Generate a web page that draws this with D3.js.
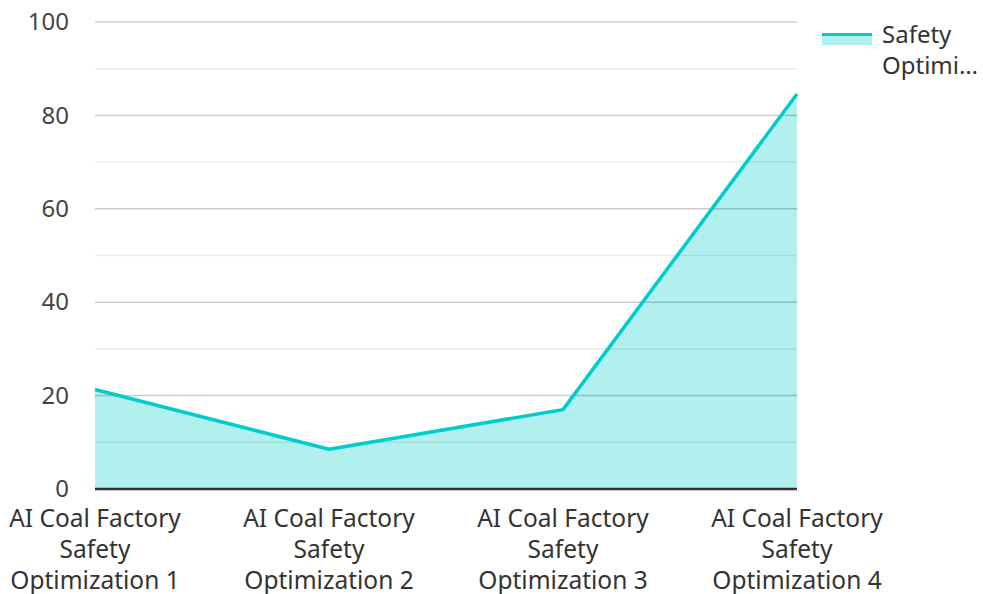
<!DOCTYPE html>
<html>
<head>
<meta charset="utf-8">
<script src="https://cdn.jsdelivr.net/npm/d3@7"></script>
<style>
  html, body { margin: 0; padding: 0; background: #fff; }
  svg { display: block; font-family: "Noto Sans", "Open Sans", sans-serif; }
</style>
</head>
<body>
<svg id="chart" width="983" height="594"></svg>
<script>
// Chart data
const categories = [
  ["AI Coal Factory", "Safety", "Optimization 1"],
  ["AI Coal Factory", "Safety", "Optimization 2"],
  ["AI Coal Factory", "Safety", "Optimization 3"],
  ["AI Coal Factory", "Safety", "Optimization 4"]
];
const seriesName = "Safety Optimization";
const legendLines = ["Safety", "Optimi\u2026"];
const values = [21.3, 8.5, 17, 84.6];
const yTicks = [0, 20, 40, 60, 80, 100];
const yMinorTicks = [10, 30, 50, 70, 90];

const svg = d3.select("#chart");
const margin = { left: 95, right: 186, top: 22, bottom: 105 };
const W = 983, H = 594;
const fontSize = 24.5;

const x = d3.scalePoint()
  .domain(d3.range(categories.length))
  .range([margin.left, W - margin.right])
  .padding(0);
const y = d3.scaleLinear().domain([0, 100]).range([H - margin.bottom, margin.top]);

const lineColor = "#00cccc";
const fillColor = "rgba(0, 204, 204, 0.3)";

// Area under the series
const area = d3.area()
  .x((d, i) => x(i))
  .y0(y(0))
  .y1(d => y(d));
svg.append("path")
  .datum(values)
  .attr("d", area)
  .attr("fill", fillColor);

// Gridlines (drawn over the fill so they show through it)
const grid = svg.append("g");
grid.selectAll("line.minor")
  .data(yMinorTicks)
  .join("line")
  .attr("class", "minor")
  .attr("x1", margin.left).attr("x2", W - margin.right)
  .attr("y1", d => y(d)).attr("y2", d => y(d))
  .attr("stroke", "rgba(0,0,0,0.08)")
  .attr("stroke-width", 1.5);
grid.selectAll("line.major")
  .data(yTicks.filter(d => d > 0))
  .join("line")
  .attr("class", "major")
  .attr("x1", margin.left).attr("x2", W - margin.right)
  .attr("y1", d => y(d)).attr("y2", d => y(d))
  .attr("stroke", "rgba(0,0,0,0.2)")
  .attr("stroke-width", 1.5);

// Series line
const line = d3.line()
  .x((d, i) => x(i))
  .y(d => y(d));
svg.append("path")
  .datum(values)
  .attr("d", line)
  .attr("fill", "none")
  .attr("stroke", lineColor)
  .attr("stroke-width", 3.5)
  .attr("stroke-linejoin", "round");

// Baseline axis
svg.append("line")
  .attr("x1", margin.left).attr("x2", W - margin.right)
  .attr("y1", y(0)).attr("y2", y(0))
  .attr("stroke", "#333")
  .attr("stroke-width", 2.5);

// Y axis labels
const yAxis = d3.axisLeft(y).tickValues(yTicks).tickSize(0).tickPadding(26);
const yg = svg.append("g")
  .attr("transform", `translate(${margin.left},0)`)
  .call(yAxis);
yg.select(".domain").remove();
yg.selectAll("text")
  .attr("font-size", 24)
  .attr("font-family", "Noto Sans, Open Sans, sans-serif")
  .attr("fill", "#444");

// X axis labels (three lines each)
const xg = svg.append("g");
categories.forEach((lines, i) => {
  const t = xg.append("text")
    .attr("text-anchor", "middle")
    .attr("font-size", fontSize)
    .attr("fill", "#333");
  lines.forEach((s, k) => {
    t.append("tspan")
      .attr("x", x(i))
      .attr("y", y(0) + 38 + k * 31)
      .text(s);
  });
});

// Legend
const lg = svg.append("g").attr("transform", "translate(822,33)");
lg.append("rect").attr("x", 0).attr("y", 0).attr("width", 50).attr("height", 12).attr("fill", fillColor);
lg.append("line").attr("x1", 0).attr("x2", 50).attr("y1", 1.5).attr("y2", 1.5)
  .attr("stroke", lineColor).attr("stroke-width", 3);
const lt = lg.append("text").attr("font-size", 24).attr("fill", "#333");
lt.append("title").text(seriesName);
legendLines.forEach((s, k) => {
  lt.append("tspan").attr("x", 60).attr("y", 10 + k * 31).text(s);
});
</script>
</body>
</html>
